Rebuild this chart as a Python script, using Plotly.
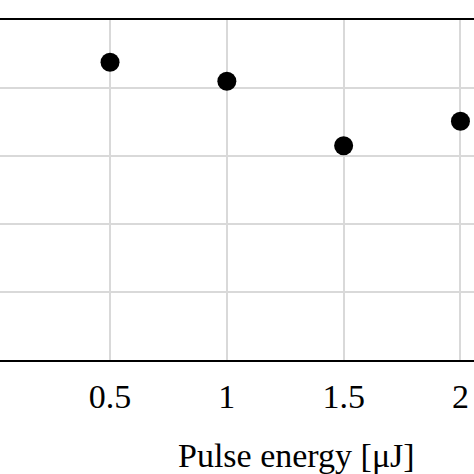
import plotly.graph_objects as go

# Data
pulse_energy = [0.5, 1.0, 1.5, 2.0]
values = [4.38, 4.10, 3.15, 3.51]
x_ticks = [0, 0.5, 1, 1.5, 2]
x_tick_labels = ["0", "0.5", "1", "1.5", "2"]

SERIF = "Liberation Serif, Times New Roman, DejaVu Serif, serif"

fig = go.Figure()

fig.add_trace(go.Scatter(
    x=pulse_energy, y=values,
    mode="markers",
    marker=dict(color="black", size=19),
    showlegend=False,
))

fig.update_layout(
    width=474, height=474,
    margin=dict(l=0, r=0, t=20, b=114),
    paper_bgcolor="white", plot_bgcolor="white",
    font=dict(family=SERIF, size=34, color="black"),
    xaxis=dict(
        range=[0.029, 2.058],
        tickvals=x_ticks, ticktext=x_tick_labels,
        tickfont=dict(family=SERIF, size=34),
        showgrid=True, gridcolor="#d9d9d9", gridwidth=2,
        showline=True, linecolor="black", linewidth=2, mirror=True,
        zeroline=False, ticks="", ticklabelstandoff=5,
    ),
    yaxis=dict(
        range=[0, 5], dtick=1,
        showgrid=True, gridcolor="#d9d9d9", gridwidth=2,
        showline=False, zeroline=False, showticklabels=False, ticks="",
    ),
    annotations=[dict(
        text="Pulse energy [μJ]",
        xref="paper", yref="paper",
        x=296.5 / 474, y=-0.28,
        xanchor="center", yanchor="middle",
        showarrow=False,
        font=dict(family=SERIF, size=34, color="black"),
    )],
)

# drop the page margin so the figure sits at the window corner
fig.write_html("out.html", config={"displayModeBar": False},
               post_script="document.body.style.margin='0';")
